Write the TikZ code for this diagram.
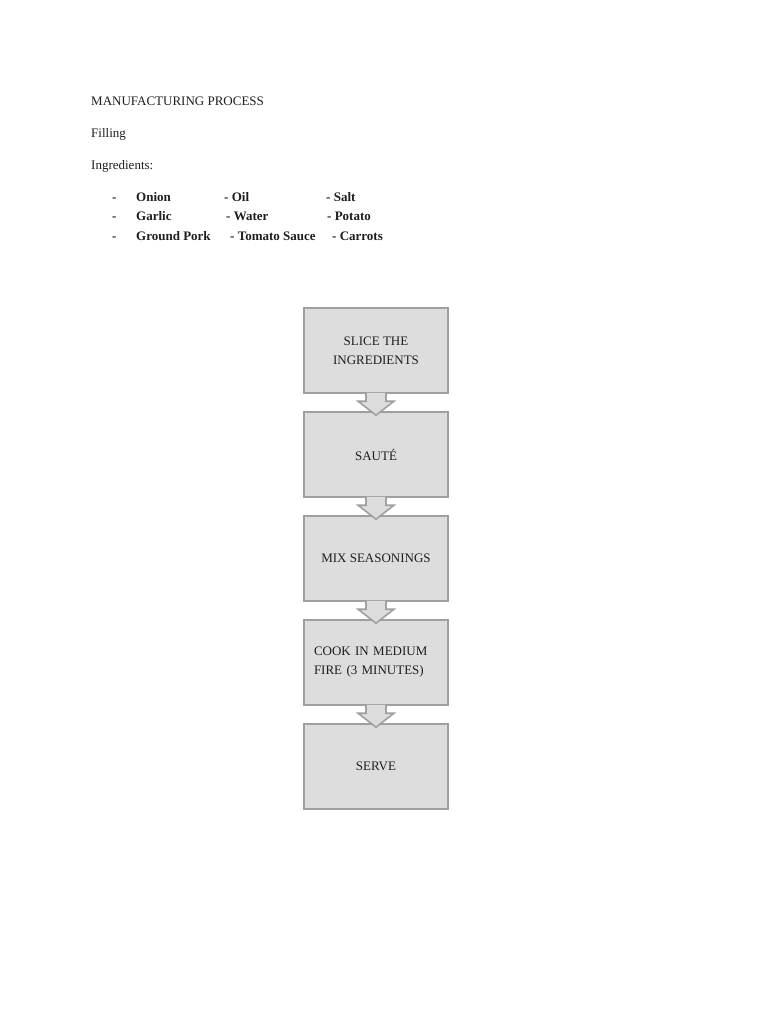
\documentclass[tikz,border=0pt]{standalone}
\usepackage{fontspec}
\setmainfont{Liberation Serif}
\usetikzlibrary{positioning,calc}

\definecolor{boxfill}{RGB}{221,221,221}
\definecolor{boxline}{RGB}{160,160,160}
\definecolor{inktext}{RGB}{30,30,30}

% hollow block arrow between two steps
\newcommand\blockarrow[2]{%
  \filldraw[arrowshape] ($(#1.south)+(-10,-1)$) -- ($(#2.north)+(-10,-10)$)
    -- ($(#2.north)+(-18,-10)$) -- ($(#2.north)+(0,4)$)
    -- ($(#2.north)+(18,-10)$) -- ($(#2.north)+(10,-10)$)
    -- ($(#1.south)+(10,-1)$);}

\begin{document}
\begin{tikzpicture}[
  x=1pt, y=-1pt,
  node distance=17.4pt,
  txt/.style={anchor=base west, inner sep=0pt, font=\fontsize{13}{15}\selectfont, text=inktext},
  item/.style={txt, font=\fontsize{13}{15}\selectfont\bfseries},
  stepbox/.style={draw=boxline, fill=boxfill, line width=1.6pt, minimum width=144pt,
                  minimum height=85pt, align=center, text=inktext,
                  font=\fontsize{13}{19}\selectfont},
  arrowshape/.style={draw=boxline, fill=boxfill, line width=1.6pt, line join=miter}
]
\fill[white] (0,0) rectangle (768,1024);
\useasboundingbox (0,0) rectangle (768,1024);

% heading and ingredient list
\node[txt] (title) at (91,105.5) {MANUFACTURING PROCESS};
\node[txt] (fill) at (91,137.5) {Filling};
\node[txt] (ingr) at (91,169.5) {Ingredients:};

\node[item] (d1) at (112,201.5) {-};
\node[item] (d2) at (112,220.5) {-};
\node[item] (d3) at (112,240.5) {-};
\node[item] (onion) at (136,201.5) {Onion};
\node[item] (garlic) at (136,220.5) {Garlic};
\node[item] (pork) at (136,240.5) {Ground Pork};
\node[item] (oil) at (224,201.5) {- Oil};
\node[item] (water) at (226,220.5) {- Water};
\node[item] (sauce) at (230,240.5) {- Tomato Sauce};
\node[item] (salt) at (326,201.5) {- Salt};
\node[item] (potato) at (327,220.5) {- Potato};
\node[item] (carrot) at (332,240.5) {- Carrots};

% process steps
\node[stepbox] (slice) at (376,350.5) {SLICE THE\\INGREDIENTS};
\node[stepbox, below=of slice] (saute) {SAUTÉ};
\node[stepbox, below=of saute] (mix) {MIX SEASONINGS};
\node[stepbox, below=of mix, align=left, text width=124pt] (cook) {COOK IN MEDIUM\\FIRE (3 MINUTES)};
\node[stepbox, below=of cook] (serve) {SERVE};

\blockarrow{slice}{saute}
\blockarrow{saute}{mix}
\blockarrow{mix}{cook}
\blockarrow{cook}{serve}
\end{tikzpicture}
\end{document}
